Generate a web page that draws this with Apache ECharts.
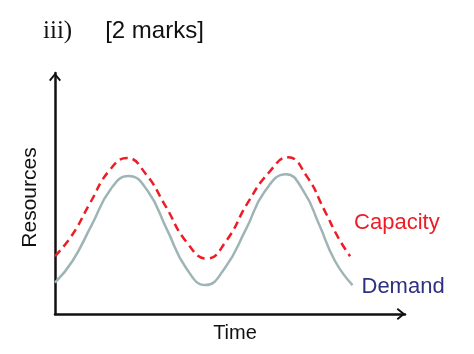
<!DOCTYPE html>
<html>
<head>
<meta charset="utf-8">
<script src="https://cdn.jsdelivr.net/npm/echarts@6/dist/echarts.min.js"></script>
<style>
  html, body { margin: 0; padding: 0; background: #fff; }
  #chart { width: 474px; height: 354px; }
</style>
</head>
<body>
<div id="chart"></div>
<script>
// 读图估计的数据（时间 0-100，资源 0-100）
const demandTime = [0, 5, 10.5, 16, 21, 26.5, 32, 37.5, 43, 48.5, 54.5, 60, 66, 71, 75.5, 80, 85]
const demandValues = [13, 22, 37, 52, 57.3, 51, 35, 19, 12, 19, 35, 51, 58, 51, 37, 22, 12]
const capacityTime = [0, 5, 10, 15.5, 20.6, 26, 31.5, 37.5, 43.4, 49, 55, 61, 66.6, 72, 77, 81, 84.3]
const capacityValues = [24, 33, 46, 59.5, 64.7, 58, 45, 30, 23, 30.5, 46, 58.5, 65, 57, 43, 31.5, 24]

const axisNames = ['Time', 'Resources']
const seriesNames = ['Capacity', 'Demand']

const zip = (xs, ys) => xs.map((x, i) => [x, ys[i]])

// 空心箭头（折线形）
const chevron = 'path://M5,0 L10,6.2 L8.8,7.2 L5,2.6 L1.2,7.2 L0,6.2 Z'

const chart = echarts.init(document.getElementById('chart'))

const axisLine = {
  show: true,
  symbol: ['none', chevron],
  symbolSize: [12, 9],
  symbolOffset: [0, -4],
  lineStyle: { color: '#111', width: 2.5 }
}

const option = {
  animation: false,
  title: {
    text: '{a|iii)}{b|[2 marks]}',
    left: 38,
    top: 14,
    textStyle: {
      rich: {
        a: { fontFamily: 'Liberation Serif', fontSize: 25, fontWeight: 'normal', color: '#111', padding: [0, 33, 0, 0] },
        b: { fontFamily: 'Liberation Sans', fontSize: 24, fontWeight: 'normal', color: '#111' }
      }
    }
  },
  grid: { left: 55, right: 69, top: 73, bottom: 40 },
  xAxis: {
    type: 'value',
    min: 0,
    max: 100,
    name: axisNames[0],
    nameLocation: 'middle',
    nameGap: 9,
    nameTextStyle: { fontFamily: 'Liberation Sans', fontSize: 20, color: '#111', verticalAlign: 'top', padding: [0, 0, 0, 10] },
    axisLine: axisLine,
    axisTick: { show: false },
    axisLabel: { show: false },
    splitLine: { show: false }
  },
  yAxis: {
    type: 'value',
    min: 0,
    max: 100,
    name: axisNames[1],
    nameLocation: 'middle',
    nameGap: 14,
    nameTextStyle: { fontFamily: 'Liberation Sans', fontSize: 21, color: '#111', padding: [0, 8, 0, 0] },
    axisLine: axisLine,
    axisTick: { show: false },
    axisLabel: { show: false },
    splitLine: { show: false }
  },
  series: [
    {
      name: seriesNames[0],
      type: 'line',
      smooth: true,
      symbol: 'none',
      data: zip(capacityTime, capacityValues),
      lineStyle: { color: '#ee1c25', width: 2.5, type: [8, 5] },
      endLabel: {
        show: true,
        formatter: '{a}',
        color: '#ee1c25',
        fontFamily: 'Liberation Sans',
        fontSize: 22,
        distance: 4,
        offset: [0, -33]
      }
    },
    {
      name: seriesNames[1],
      type: 'line',
      smooth: true,
      symbol: 'none',
      data: zip(demandTime, demandValues),
      lineStyle: { color: '#9fb4b4', width: 2.5 },
      endLabel: {
        show: true,
        formatter: '{a}',
        color: '#2e3080',
        fontFamily: 'Liberation Sans',
        fontSize: 22,
        distance: 9,
        offset: [0, 2]
      }
    }
  ]
}

chart.setOption(option)
</script>
</body>
</html>
